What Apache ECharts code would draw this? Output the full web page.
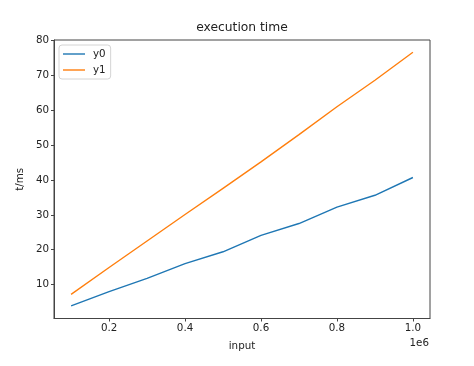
<!DOCTYPE html>
<html>
<head>
<meta charset="utf-8">
<script src="https://cdn.jsdelivr.net/npm/echarts@6/dist/echarts.min.js"></script>
<style>html,body{margin:0;padding:0;background:#fff;}#c{width:474px;height:366px;}</style>
</head>
<body>
<div id="c"></div>
<script>
const xValues = [0.1, 0.2, 0.3, 0.4, 0.5, 0.6, 0.7, 0.8, 0.9, 1.0];
const y0 = [3.9, 8.0, 11.8, 16.0, 19.4, 24.1, 27.5, 32.2, 35.6, 40.7];
const y1 = [7.2, 14.9, 22.5, 30.1, 37.6, 45.2, 53.0, 61.0, 68.6, 76.6];
const xTicks = [0.2, 0.4, 0.6, 0.8, 1.0];
const yTicks = [10, 20, 30, 40, 50, 60, 70, 80];
const seriesNames = ['y0', 'y1'];
const titleText = 'execution time';
const xName = 'input';
const yName = 't/ms';
const xOffsetText = '1e6';

const FONT = 'DejaVu Sans';
const TXT = '#222';
const AX = '#444';
const chart = echarts.init(document.getElementById('c'), null, {renderer: 'canvas'});
const pairs = a => xValues.map((x, i) => [x, a[i]]);
chart.setOption({
  animation: false,
  backgroundColor: '#fff',
  grid: {left: 54, right: 44, top: 40, bottom: 47.5, show: true, borderColor: AX, borderWidth: 1, backgroundColor: 'transparent'},
  legend: {
    orient: 'vertical', left: 59, top: 45, padding: [3, 5, 3, 4], itemGap: 4,
    itemWidth: 22, itemHeight: 12, borderColor: '#d4d4d4', borderWidth: 1, borderRadius: 3,
    backgroundColor: '#fff',
    icon: 'path://M0,5.3 L22,5.3 L22,6.7 L0,6.7 Z',
    textStyle: {fontFamily: FONT, fontSize: 10.3, color: TXT, lineHeight: 12, padding: [0, 0, 0, 3]},
    data: seriesNames
  },
  xAxis: {
    type: 'value', min: 0.055, max: 1.045,
    name: xName, nameLocation: 'middle', nameGap: 23,
    nameTextStyle: {fontFamily: FONT, fontSize: 10.3, color: TXT},
    axisLine: {show: true, lineStyle: {color: AX, width: 1}},
    axisTick: {show: true, length: 3, customValues: xTicks, lineStyle: {color: AX}},
    axisLabel: {customValues: xTicks, margin: 5, fontFamily: FONT, fontSize: 10.3, color: TXT,
      formatter: v => v.toFixed(1)},
    splitLine: {show: false}
  },
  yAxis: {
    type: 'value', min: 0.27, max: 80.13,
    name: yName, nameLocation: 'middle', nameGap: 22, nameRotate: 90,
    nameTextStyle: {fontFamily: FONT, fontSize: 10.3, color: TXT},
    axisLine: {show: true, lineStyle: {color: AX, width: 1}},
    axisTick: {show: true, length: 3, customValues: yTicks, lineStyle: {color: AX}},
    axisLabel: {customValues: yTicks, margin: 5, fontFamily: FONT, fontSize: 10.3, color: TXT},
    splitLine: {show: false}
  },
  graphic: [{
    type: 'text', x: 242, y: 28,
    style: {text: titleText, fontFamily: FONT, fontSize: 12.3, fill: TXT, align: 'center', verticalAlign: 'middle'}
  }, {
    type: 'text', right: 45, top: 338,
    style: {text: xOffsetText, fontFamily: FONT, fontSize: 10.3, fill: TXT}
  }],
  series: [
    {name: seriesNames[0], type: 'line', data: pairs(y0), showSymbol: false, symbol: 'none',
      lineStyle: {color: '#1f77b4', width: 1.4}, itemStyle: {color: '#1f77b4'}},
    {name: seriesNames[1], type: 'line', data: pairs(y1), showSymbol: false, symbol: 'none',
      lineStyle: {color: '#ff7f0e', width: 1.4}, itemStyle: {color: '#ff7f0e'}}
  ]
});
</script>
</body>
</html>
